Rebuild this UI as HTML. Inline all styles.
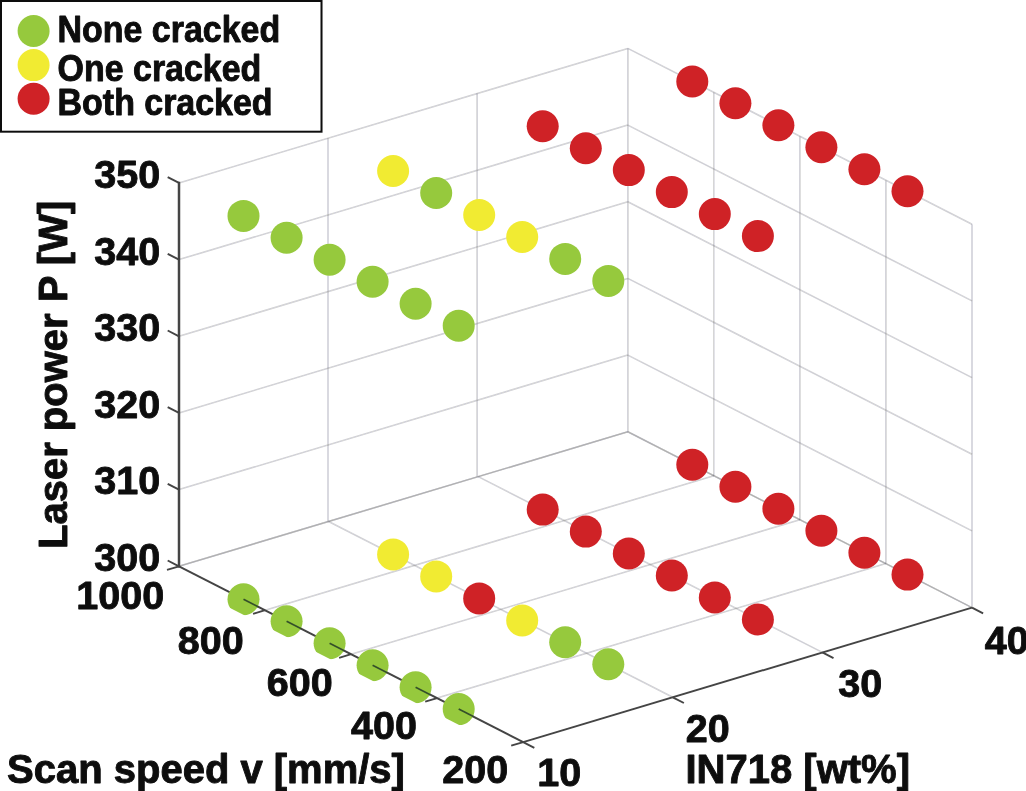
<!DOCTYPE html>
<html><head><meta charset="utf-8"><title>Crack map</title>
<style>html,body{margin:0;padding:0;background:#fff}svg{display:block}</style></head>
<body><svg width="1026" height="791" viewBox="0 0 1026 791">
<rect width="1026" height="791" fill="#fff"/>
<filter id="soft" x="0" y="0" width="1026" height="791" filterUnits="userSpaceOnUse"><feGaussianBlur stdDeviation="0.4"/></filter>
<g filter="url(#soft)">
<line x1="179.0" y1="566.3" x2="627.8" y2="431.8" stroke="#1c1c24" stroke-width="1.6"  stroke-opacity="0.19"/>
<line x1="627.8" y1="431.8" x2="972.0" y2="607.6" stroke="#1c1c24" stroke-width="1.6"  stroke-opacity="0.19"/>
<line x1="179.0" y1="489.6" x2="627.8" y2="355.1" stroke="#1c1c24" stroke-width="1.6"  stroke-opacity="0.19"/>
<line x1="627.8" y1="355.1" x2="972.0" y2="530.9" stroke="#1c1c24" stroke-width="1.6"  stroke-opacity="0.19"/>
<line x1="179.0" y1="412.9" x2="627.8" y2="278.4" stroke="#1c1c24" stroke-width="1.6"  stroke-opacity="0.19"/>
<line x1="627.8" y1="278.4" x2="972.0" y2="454.2" stroke="#1c1c24" stroke-width="1.6"  stroke-opacity="0.19"/>
<line x1="179.0" y1="336.3" x2="627.8" y2="201.8" stroke="#1c1c24" stroke-width="1.6"  stroke-opacity="0.19"/>
<line x1="627.8" y1="201.8" x2="972.0" y2="377.6" stroke="#1c1c24" stroke-width="1.6"  stroke-opacity="0.19"/>
<line x1="179.0" y1="259.6" x2="627.8" y2="125.1" stroke="#1c1c24" stroke-width="1.6"  stroke-opacity="0.19"/>
<line x1="627.8" y1="125.1" x2="972.0" y2="300.9" stroke="#1c1c24" stroke-width="1.6"  stroke-opacity="0.19"/>
<line x1="179.0" y1="182.9" x2="627.8" y2="48.4" stroke="#1c1c24" stroke-width="1.6"  stroke-opacity="0.19"/>
<line x1="627.8" y1="48.4" x2="972.0" y2="224.2" stroke="#1c1c24" stroke-width="1.6"  stroke-opacity="0.19"/>
<line x1="328.0" y1="521.5" x2="328.0" y2="138.1" stroke="#1c1c24" stroke-width="1.6"  stroke-opacity="0.19"/>
<line x1="328.6" y1="521.5" x2="672.8" y2="697.3" stroke="#1c1c24" stroke-width="1.6"  stroke-opacity="0.19"/>
<line x1="477.1" y1="476.6" x2="477.1" y2="93.2" stroke="#1c1c24" stroke-width="1.6"  stroke-opacity="0.19"/>
<line x1="478.2" y1="476.6" x2="822.4" y2="652.4" stroke="#1c1c24" stroke-width="1.6"  stroke-opacity="0.19"/>
<line x1="627.9" y1="431.8" x2="627.9" y2="48.4" stroke="#1c1c24" stroke-width="1.6"  stroke-opacity="0.19"/>
<line x1="627.8" y1="431.8" x2="972.0" y2="607.6" stroke="#1c1c24" stroke-width="1.6"  stroke-opacity="0.19"/>
<line x1="713.8" y1="475.7" x2="713.8" y2="92.3" stroke="#1c1c24" stroke-width="1.6"  stroke-opacity="0.19"/>
<line x1="799.9" y1="519.7" x2="799.9" y2="136.3" stroke="#1c1c24" stroke-width="1.6"  stroke-opacity="0.19"/>
<line x1="885.9" y1="563.6" x2="885.9" y2="180.2" stroke="#1c1c24" stroke-width="1.6"  stroke-opacity="0.19"/>
<line x1="972.0" y1="607.6" x2="972.0" y2="224.2" stroke="#1c1c24" stroke-width="1.6"  stroke-opacity="0.19"/>
<line x1="265.1" y1="610.2" x2="713.8" y2="475.7" stroke="#1c1c24" stroke-width="1.6"  stroke-opacity="0.19"/>
<line x1="351.1" y1="654.2" x2="799.9" y2="519.7" stroke="#1c1c24" stroke-width="1.6"  stroke-opacity="0.19"/>
<line x1="437.1" y1="698.1" x2="885.9" y2="563.6" stroke="#1c1c24" stroke-width="1.6"  stroke-opacity="0.19"/>
<line x1="179.0" y1="566.3" x2="627.8" y2="431.8" stroke="#1c1c24" stroke-width="1.6"  stroke-opacity="0.19"/>
<line x1="179.0" y1="566.3" x2="179.0" y2="182.9" stroke="#444444" stroke-width="2.5" stroke-linecap="square"/>
<line x1="179.0" y1="566.3" x2="523.2" y2="742.1" stroke="#444444" stroke-width="1.9" />
<line x1="523.2" y1="742.1" x2="972.0" y2="607.6" stroke="#444444" stroke-width="1.9" />
<line x1="179.0" y1="566.3" x2="167.7" y2="560.5" stroke="#444444" stroke-width="1.9" />
<line x1="179.0" y1="489.6" x2="167.7" y2="483.8" stroke="#444444" stroke-width="1.9" />
<line x1="179.0" y1="412.9" x2="167.7" y2="407.2" stroke="#444444" stroke-width="1.9" />
<line x1="179.0" y1="336.3" x2="167.7" y2="330.5" stroke="#444444" stroke-width="1.9" />
<line x1="179.0" y1="259.6" x2="167.7" y2="253.8" stroke="#444444" stroke-width="1.9" />
<line x1="179.0" y1="182.9" x2="167.7" y2="177.1" stroke="#444444" stroke-width="1.9" />
<line x1="179.0" y1="566.3" x2="167.0" y2="569.9" stroke="#444444" stroke-width="1.9" />
<line x1="265.1" y1="610.2" x2="253.1" y2="613.8" stroke="#444444" stroke-width="1.9" />
<line x1="351.1" y1="654.2" x2="339.1" y2="657.8" stroke="#444444" stroke-width="1.9" />
<line x1="437.1" y1="698.1" x2="425.2" y2="701.7" stroke="#444444" stroke-width="1.9" />
<line x1="523.2" y1="742.1" x2="511.2" y2="745.7" stroke="#444444" stroke-width="1.9" />
<line x1="523.2" y1="742.1" x2="534.3" y2="747.8" stroke="#444444" stroke-width="1.9" />
<line x1="672.8" y1="697.3" x2="683.9" y2="703.0" stroke="#444444" stroke-width="1.9" />
<line x1="822.4" y1="652.4" x2="833.5" y2="658.1" stroke="#444444" stroke-width="1.9" />
<line x1="972.0" y1="607.6" x2="983.1" y2="613.3" stroke="#444444" stroke-width="1.9" />
<clipPath id="cl"><polygon points="103.8,543.6 585.7,789.7 613.0,736.3 131.1,490.2"/></clipPath>
<circle cx="692.3" cy="81.4" r="16" fill="#cf2027"/>
<circle cx="735.4" cy="103.3" r="16" fill="#cf2027"/>
<circle cx="778.4" cy="125.3" r="16" fill="#cf2027"/>
<circle cx="821.4" cy="147.3" r="16" fill="#cf2027"/>
<circle cx="864.4" cy="169.3" r="16" fill="#cf2027"/>
<circle cx="907.5" cy="191.2" r="16" fill="#cf2027"/>
<circle cx="542.7" cy="126.2" r="16" fill="#cf2027"/>
<circle cx="585.8" cy="148.2" r="16" fill="#cf2027"/>
<circle cx="628.8" cy="170.1" r="16" fill="#cf2027"/>
<circle cx="671.8" cy="192.1" r="16" fill="#cf2027"/>
<circle cx="714.8" cy="214.1" r="16" fill="#cf2027"/>
<circle cx="757.9" cy="236.1" r="16" fill="#cf2027"/>
<circle cx="393.1" cy="171.0" r="16" fill="#f1eb33"/>
<circle cx="436.2" cy="193.0" r="16" fill="#96c93d"/>
<circle cx="479.2" cy="215.0" r="16" fill="#f1eb33"/>
<circle cx="522.2" cy="237.0" r="16" fill="#f1eb33"/>
<circle cx="565.2" cy="258.9" r="16" fill="#96c93d"/>
<circle cx="608.3" cy="280.9" r="16" fill="#96c93d"/>
<circle cx="243.5" cy="215.9" r="16" fill="#96c93d"/>
<circle cx="286.6" cy="237.8" r="16" fill="#96c93d"/>
<circle cx="329.6" cy="259.8" r="16" fill="#96c93d"/>
<circle cx="372.6" cy="281.8" r="16" fill="#96c93d"/>
<circle cx="415.6" cy="303.8" r="16" fill="#96c93d"/>
<circle cx="458.7" cy="325.7" r="16" fill="#96c93d"/>
<circle cx="692.3" cy="464.8" r="16" fill="#cf2027"/>
<circle cx="735.4" cy="486.7" r="16" fill="#cf2027"/>
<circle cx="778.4" cy="508.7" r="16" fill="#cf2027"/>
<circle cx="821.4" cy="530.7" r="16" fill="#cf2027"/>
<circle cx="864.4" cy="552.7" r="16" fill="#cf2027"/>
<circle cx="907.5" cy="574.6" r="16" fill="#cf2027"/>
<circle cx="542.7" cy="509.6" r="16" fill="#cf2027"/>
<circle cx="585.8" cy="531.6" r="16" fill="#cf2027"/>
<circle cx="628.8" cy="553.5" r="16" fill="#cf2027"/>
<circle cx="671.8" cy="575.5" r="16" fill="#cf2027"/>
<circle cx="714.8" cy="597.5" r="16" fill="#cf2027"/>
<circle cx="757.9" cy="619.5" r="16" fill="#cf2027"/>
<circle cx="393.1" cy="554.4" r="16" fill="#f1eb33"/>
<circle cx="436.2" cy="576.4" r="16" fill="#f1eb33"/>
<circle cx="479.2" cy="598.4" r="16" fill="#cf2027"/>
<circle cx="522.2" cy="620.4" r="16" fill="#f1eb33"/>
<circle cx="565.2" cy="642.3" r="16" fill="#96c93d"/>
<circle cx="608.3" cy="664.3" r="16" fill="#96c93d"/>
<circle cx="243.5" cy="599.3" r="16" fill="#96c93d" clip-path="url(#cl)"/>
<line x1="243.5" y1="599.3" x2="258.2" y2="606.8" stroke="#34502a" stroke-width="1.7" />
<circle cx="286.6" cy="621.2" r="16" fill="#96c93d" clip-path="url(#cl)"/>
<line x1="286.6" y1="621.2" x2="301.3" y2="628.7" stroke="#34502a" stroke-width="1.7" />
<circle cx="329.6" cy="643.2" r="16" fill="#96c93d" clip-path="url(#cl)"/>
<line x1="329.6" y1="643.2" x2="344.3" y2="650.7" stroke="#34502a" stroke-width="1.7" />
<circle cx="372.6" cy="665.2" r="16" fill="#96c93d" clip-path="url(#cl)"/>
<line x1="372.6" y1="665.2" x2="387.3" y2="672.7" stroke="#34502a" stroke-width="1.7" />
<circle cx="415.6" cy="687.2" r="16" fill="#96c93d" clip-path="url(#cl)"/>
<line x1="415.6" y1="687.2" x2="430.3" y2="694.7" stroke="#34502a" stroke-width="1.7" />
<circle cx="458.7" cy="709.1" r="16" fill="#96c93d" clip-path="url(#cl)"/>
<line x1="458.7" y1="709.1" x2="473.4" y2="716.6" stroke="#34502a" stroke-width="1.7" />
<text x="160.2" y="571.0" font-size="39.5" text-anchor="end" font-family="Liberation Sans, Arial, Helvetica, sans-serif" font-weight="bold" fill="#0a0a0a" stroke="#0a0a0a" stroke-width="0.9" stroke-linejoin="round" >300</text>
<text x="160.2" y="494.4" font-size="39.5" text-anchor="end" font-family="Liberation Sans, Arial, Helvetica, sans-serif" font-weight="bold" fill="#0a0a0a" stroke="#0a0a0a" stroke-width="0.9" stroke-linejoin="round" >310</text>
<text x="160.2" y="417.8" font-size="39.5" text-anchor="end" font-family="Liberation Sans, Arial, Helvetica, sans-serif" font-weight="bold" fill="#0a0a0a" stroke="#0a0a0a" stroke-width="0.9" stroke-linejoin="round" >320</text>
<text x="160.2" y="341.2" font-size="39.5" text-anchor="end" font-family="Liberation Sans, Arial, Helvetica, sans-serif" font-weight="bold" fill="#0a0a0a" stroke="#0a0a0a" stroke-width="0.9" stroke-linejoin="round" >330</text>
<text x="160.2" y="264.6" font-size="39.5" text-anchor="end" font-family="Liberation Sans, Arial, Helvetica, sans-serif" font-weight="bold" fill="#0a0a0a" stroke="#0a0a0a" stroke-width="0.9" stroke-linejoin="round" >340</text>
<text x="160.2" y="188.0" font-size="39.5" text-anchor="end" font-family="Liberation Sans, Arial, Helvetica, sans-serif" font-weight="bold" fill="#0a0a0a" stroke="#0a0a0a" stroke-width="0.9" stroke-linejoin="round" >350</text>
<text x="164.2" y="608.6" font-size="39.5" text-anchor="end" font-family="Liberation Sans, Arial, Helvetica, sans-serif" font-weight="bold" fill="#0a0a0a" stroke="#0a0a0a" stroke-width="0.9" stroke-linejoin="round" >1000</text>
<text x="243.7" y="653.7" font-size="39.5" text-anchor="end" font-family="Liberation Sans, Arial, Helvetica, sans-serif" font-weight="bold" fill="#0a0a0a" stroke="#0a0a0a" stroke-width="0.9" stroke-linejoin="round" >800</text>
<text x="332.7" y="695.7" font-size="39.5" text-anchor="end" font-family="Liberation Sans, Arial, Helvetica, sans-serif" font-weight="bold" fill="#0a0a0a" stroke="#0a0a0a" stroke-width="0.9" stroke-linejoin="round" >600</text>
<text x="417.0" y="739.2" font-size="39.5" text-anchor="end" font-family="Liberation Sans, Arial, Helvetica, sans-serif" font-weight="bold" fill="#0a0a0a" stroke="#0a0a0a" stroke-width="0.9" stroke-linejoin="round" >400</text>
<text x="508.2" y="782.5" font-size="39.5" text-anchor="end" font-family="Liberation Sans, Arial, Helvetica, sans-serif" font-weight="bold" fill="#0a0a0a" stroke="#0a0a0a" stroke-width="0.9" stroke-linejoin="round" >200</text>
<text x="537.3" y="786.0" font-size="39.5" text-anchor="start" font-family="Liberation Sans, Arial, Helvetica, sans-serif" font-weight="bold" fill="#0a0a0a" stroke="#0a0a0a" stroke-width="0.9" stroke-linejoin="round" >10</text>
<text x="685.8" y="742.0" font-size="39.5" text-anchor="start" font-family="Liberation Sans, Arial, Helvetica, sans-serif" font-weight="bold" fill="#0a0a0a" stroke="#0a0a0a" stroke-width="0.9" stroke-linejoin="round" >20</text>
<text x="838.3" y="696.5" font-size="39.5" text-anchor="start" font-family="Liberation Sans, Arial, Helvetica, sans-serif" font-weight="bold" fill="#0a0a0a" stroke="#0a0a0a" stroke-width="0.9" stroke-linejoin="round" >30</text>
<text x="984.8" y="653.8" font-size="39.5" text-anchor="start" font-family="Liberation Sans, Arial, Helvetica, sans-serif" font-weight="bold" fill="#0a0a0a" stroke="#0a0a0a" stroke-width="0.9" stroke-linejoin="round" >40</text>
<text x="7.0" y="782.5" font-size="40" text-anchor="start" font-family="Liberation Sans, Arial, Helvetica, sans-serif" font-weight="bold" fill="#0a0a0a" stroke="#0a0a0a" stroke-width="0.9" stroke-linejoin="round" >Scan speed v [mm/s]</text>
<text x="685.5" y="782.5" font-size="40" text-anchor="start" font-family="Liberation Sans, Arial, Helvetica, sans-serif" font-weight="bold" fill="#0a0a0a" stroke="#0a0a0a" stroke-width="0.9" stroke-linejoin="round" >IN718 [wt%]</text>
<text transform="translate(66.8,549) rotate(-90)" font-size="40" font-family="Liberation Sans, Arial, Helvetica, sans-serif" font-weight="bold" fill="#0a0a0a" stroke="#0a0a0a" stroke-width="0.9" stroke-linejoin="round">Laser power P [W]</text>
<rect x="1" y="1" width="320.5" height="130.7" fill="#fff" stroke="#0a0a0a" stroke-width="2"/>
<circle cx="33.6" cy="31.0" r="16" fill="#96c93d"/>
<circle cx="33.6" cy="65.1" r="16" fill="#f1eb33"/>
<circle cx="33.6" cy="98.8" r="16" fill="#cf2027"/>
<text transform="translate(57.6,42.2) scale(0.943,1)" font-size="36" font-family="Liberation Sans, Arial, Helvetica, sans-serif" font-weight="bold" fill="#0a0a0a" stroke="#0a0a0a" stroke-width="0.9" stroke-linejoin="round">None cracked</text>
<text transform="translate(57.6,80.6) scale(0.943,1)" font-size="36" font-family="Liberation Sans, Arial, Helvetica, sans-serif" font-weight="bold" fill="#0a0a0a" stroke="#0a0a0a" stroke-width="0.9" stroke-linejoin="round">One cracked</text>
<text transform="translate(57.6,114.5) scale(0.943,1)" font-size="36" font-family="Liberation Sans, Arial, Helvetica, sans-serif" font-weight="bold" fill="#0a0a0a" stroke="#0a0a0a" stroke-width="0.9" stroke-linejoin="round">Both cracked</text>
</g>
</svg></body></html>
